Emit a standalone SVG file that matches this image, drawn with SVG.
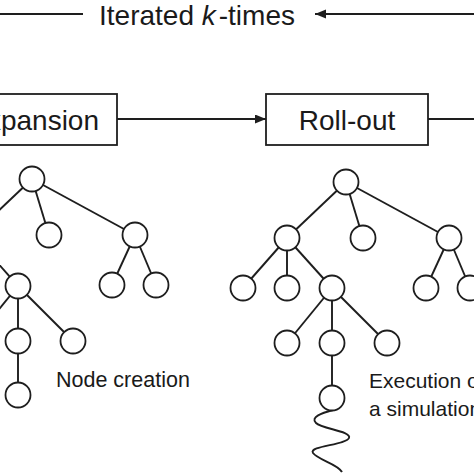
<svg xmlns="http://www.w3.org/2000/svg" width="474" height="474" viewBox="0 0 474 474">
<style>
.ln{stroke:#1e1e1e;stroke-width:1.9;fill:none}
.nd{fill:#fff;stroke:#1e1e1e;stroke-width:1.8}
.bx{fill:#fff;stroke:#1e1e1e;stroke-width:1.8}
.t{font-family:"Liberation Sans",Arial,sans-serif;fill:#1a1a1a}
</style>
<defs>
<marker id="ah" markerUnits="userSpaceOnUse" markerWidth="12" markerHeight="10" refX="11" refY="4.5" orient="auto">
<path d="M0,0 L11,4.5 L0,9 z" fill="#1e1e1e"/>
</marker>
</defs>
<rect width="474" height="474" fill="#fff"/>
<g id="connectors">
<line class="ln" x1="0" y1="14" x2="83" y2="14"/>
<line class="ln" x1="474" y1="14" x2="315" y2="14" marker-end="url(#ah)"/>
<line class="ln" x1="117" y1="119" x2="266" y2="119" marker-end="url(#ah)"/>
<line class="ln" x1="428" y1="119" x2="474" y2="119"/>
<!-- left tree -->
<line class="ln" x1="32" y1="179" x2="-27" y2="235"/>
<line class="ln" x1="32" y1="179" x2="49" y2="235"/>
<line class="ln" x1="32" y1="179" x2="135" y2="235"/>
<line class="ln" x1="135" y1="235" x2="112" y2="285"/>
<line class="ln" x1="135" y1="235" x2="156" y2="285"/>
<line class="ln" x1="-27" y1="235" x2="18" y2="286"/>
<line class="ln" x1="18" y1="286" x2="-27" y2="341"/>
<line class="ln" x1="18" y1="286" x2="18" y2="341"/>
<line class="ln" x1="18" y1="286" x2="73" y2="341"/>
<line class="ln" x1="18" y1="341" x2="18" y2="395"/>
<!-- right tree -->
<line class="ln" x1="346" y1="182" x2="287" y2="238"/>
<line class="ln" x1="346" y1="182" x2="363" y2="238"/>
<line class="ln" x1="346" y1="182" x2="449" y2="238"/>
<line class="ln" x1="287" y1="238" x2="243" y2="288"/>
<line class="ln" x1="287" y1="238" x2="287" y2="288"/>
<line class="ln" x1="287" y1="238" x2="332" y2="288"/>
<line class="ln" x1="449" y1="238" x2="426" y2="288"/>
<line class="ln" x1="449" y1="238" x2="470" y2="288"/>
<line class="ln" x1="332" y1="288" x2="287" y2="343"/>
<line class="ln" x1="332" y1="288" x2="332" y2="343"/>
<line class="ln" x1="332" y1="288" x2="387" y2="343"/>
<line class="ln" x1="332" y1="343" x2="332" y2="398"/>
<path class="ln" d="M333,410 C322,413 310,417 316,423 C322,429 352,431 349,438 C346,445 308,446 313,453 C318,460 338,464 342,472"/>
</g>
<g id="iterated">
<text class="t" x="99" y="25" font-size="28">Iterated <tspan font-style="italic">k</tspan><tspan dx="3">-times</tspan></text>
</g>
<g id="expansion">
<rect class="bx" x="-47" y="94" width="164" height="51"/>
<text class="t" x="99" y="130" font-size="28" text-anchor="end">Expansion</text>
</g>
<g id="rollout">
<rect class="bx" x="266" y="94" width="162" height="51"/>
<text class="t" x="347" y="130" font-size="28" text-anchor="middle">Roll-out</text>
</g>
<g id="left-tree">
<circle class="nd" cx="32" cy="179" r="12.5"/>
<circle class="nd" cx="49" cy="235" r="12.5"/>
<circle class="nd" cx="135" cy="235" r="12.5"/>
<circle class="nd" cx="112" cy="285" r="12.5"/>
<circle class="nd" cx="156" cy="285" r="12.5"/>
<circle class="nd" cx="18" cy="286" r="12.5"/>
<circle class="nd" cx="18" cy="341" r="12.5"/>
<circle class="nd" cx="73" cy="341" r="12.5"/>
<circle class="nd" cx="18" cy="395" r="12.5"/>
<text class="t" x="56" y="387" font-size="21.5">Node creation</text>
</g>
<g id="right-tree">
<circle class="nd" cx="346" cy="182" r="12.5"/>
<circle class="nd" cx="287" cy="238" r="12.5"/>
<circle class="nd" cx="363" cy="238" r="12.5"/>
<circle class="nd" cx="449" cy="238" r="12.5"/>
<circle class="nd" cx="243" cy="288" r="12.5"/>
<circle class="nd" cx="287" cy="288" r="12.5"/>
<circle class="nd" cx="332" cy="288" r="12.5"/>
<circle class="nd" cx="426" cy="288" r="12.5"/>
<circle class="nd" cx="470" cy="288" r="12.5"/>
<circle class="nd" cx="287" cy="343" r="12.5"/>
<circle class="nd" cx="332" cy="343" r="12.5"/>
<circle class="nd" cx="387" cy="343" r="12.5"/>
<circle class="nd" cx="332" cy="398" r="12.5"/>
<text class="t" x="369" y="388" font-size="21">Execution of</text>
<text class="t" x="369" y="416" font-size="21">a simulation</text>
</g>
</svg>
